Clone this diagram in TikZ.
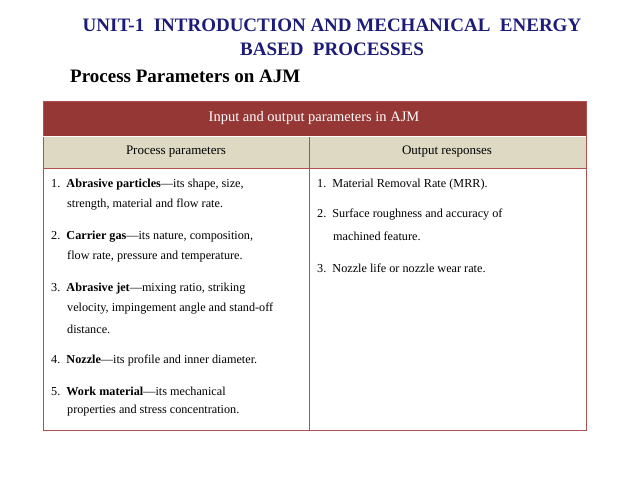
\documentclass[tikz,border=0pt]{standalone}
\usepackage{fontspec}
\setmainfont{Liberation Serif}
\definecolor{navy}{HTML}{1C1C78}
\definecolor{hdr}{HTML}{953735}
\definecolor{sub}{HTML}{DDD9C3}
\definecolor{bord}{HTML}{B05050}
\begin{document}
\begin{tikzpicture}[x=1pt,y=-1pt,
  ttl/.style={font=\bfseries\fontsize{19}{21}\selectfont,text=navy},
  cell/.style={anchor=west,inner sep=0pt,font=\fontsize{12.2}{14}\selectfont}]
\useasboundingbox (0,0) rectangle (638,478);
\node[ttl] (t1) at (332,25) {UNIT-1\ \ INTRODUCTION AND MECHANICAL\ \ ENERGY};
\node[ttl] (t2) at (332,49) {BASED\ \ PROCESSES};
\node[anchor=west,inner sep=0pt,font=\bfseries\fontsize{19}{21}\selectfont] (t3) at (70,76) {Process Parameters on AJM};
\fill[hdr] (43,101) rectangle (586,136);
\fill[sub] (43,136) rectangle (586,168);
\draw[bord,line width=0.8pt] (43,101) rectangle (586,430);
\draw[bord,line width=0.6pt] (43,168) -- (586,168) (309,136) -- (309,430);
\draw[white,line width=0.6pt] (43,136) -- (586,136);
\node[text=white,font=\fontsize{14.5}{16}\selectfont] (h) at (314,118) {Input and output parameters in AJM};
\node[font=\fontsize{13}{15}\selectfont] (c1) at (176,152) {Process parameters};
\node[font=\fontsize{13}{15}\selectfont] (c2) at (447,152) {Output responses};
\node[cell] (a1) at (51,185) {1.\ \ \textbf{Abrasive particles}—its shape, size,};
\node[cell] (a1b) at (67,205) {strength, material and flow rate.};
\node[cell] (a2) at (51,237) {2.\ \ \textbf{Carrier gas}—its nature, composition,};
\node[cell] (a2b) at (67,257) {flow rate, pressure and temperature.};
\node[cell] (a3) at (51,289) {3.\ \ \textbf{Abrasive jet}—mixing ratio, striking};
\node[cell] (a3b) at (67,309) {velocity, impingement angle and stand-off};
\node[cell] (a3c) at (67,329) {distance.};
\node[cell] (a4) at (51,361) {4.\ \ \textbf{Nozzle}—its profile and inner diameter.};
\node[cell] (a5) at (51,391) {5.\ \ \textbf{Work material}—its mechanical};
\node[cell] (a5b) at (67,411) {properties and stress concentration.};
\node[cell] (b1) at (317,185) {1.\ \ Material Removal Rate (MRR).};
\node[cell] (b2) at (317,215) {2.\ \ Surface roughness and accuracy of};
\node[cell] (b2b) at (333,236) {machined feature.};
\node[cell] (b3) at (317,268) {3.\ \ Nozzle life or nozzle wear rate.};
\end{tikzpicture}
\end{document}
